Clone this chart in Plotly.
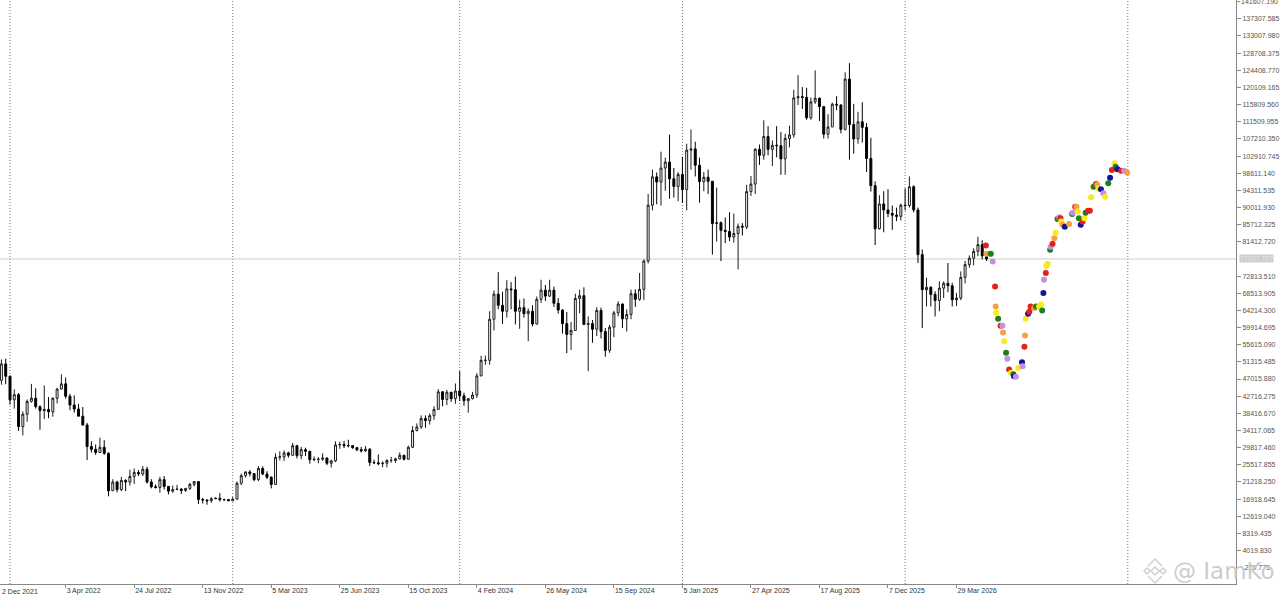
import pandas as pd
import plotly.graph_objects as go

# ---------------- weekly candles (values in thousands of USD) ----------------
first_week = "2021-12-19"
first_open_k = 46.7
closes_k = [
    50.8, 47.7, 41.8, 43.1, 35.1, 38.2, 41.4, 42.2, 40.1, 39.1,
    39.4, 38.8, 42.2, 44.5, 45.8, 42.7, 40.5, 39.5, 37.7, 35.5,
    30.1, 29.4, 28.6, 29.9, 28.4, 19.0, 21.2, 19.3, 21.6, 21.2,
    22.6, 23.6, 23.2, 24.4, 21.2, 20.0, 19.8, 21.8, 20.1, 18.9,
    19.3, 19.4, 19.1, 19.6, 20.6, 21.3, 16.8, 16.7, 16.5, 17.0,
    17.1, 16.8, 16.8, 16.5, 16.9, 20.9, 22.8, 23.7, 23.3, 21.8,
    24.6, 23.2, 22.4, 20.6, 27.4, 27.5, 28.5, 27.9, 30.3, 27.8,
    29.3, 28.9, 26.8, 26.9, 26.9, 27.2, 25.9, 26.5, 30.5, 30.6,
    30.3, 30.3, 29.8, 29.3, 29.0, 29.4, 26.1, 26.0, 25.8, 25.9,
    26.6, 26.6, 27.0, 27.9, 26.9, 29.9, 34.1, 35.0, 37.1, 36.6,
    37.8, 39.4, 43.8, 41.9, 43.7, 42.1, 44.0, 42.8, 41.6, 42.1,
    43.0, 47.8, 51.7, 51.7, 62.0, 68.3, 65.5, 64.0, 69.6, 69.4,
    64.0, 64.9, 63.4, 64.0, 60.8, 67.0, 69.3, 67.8, 69.3, 66.0,
    64.3, 60.9, 58.2, 59.2, 67.2, 67.9, 60.7, 60.9, 59.5, 64.2,
    58.9, 54.2, 60.0, 63.6, 65.8, 62.1, 63.2, 68.4, 67.0, 69.5,
    76.6, 90.6, 97.7, 96.4, 99.9, 101.4, 97.2, 95.3, 98.3, 94.5,
    104.4, 104.7, 100.6, 96.5, 97.6, 96.6, 86.0, 86.2, 84.3, 84.0,
    82.6, 83.5, 85.3, 85.1, 94.0, 95.9, 104.6, 103.1, 107.8, 104.6,
    105.6, 105.5, 102.2, 107.3, 108.2, 117.5, 117.8, 117.6, 112.5, 116.5,
    117.4, 115.3, 108.4, 110.2, 115.9, 115.7, 109.6, 122.2, 110.8, 107.2,
    111.5, 110.1, 102.3, 95.5, 84.7, 90.9, 89.4, 88.5, 88.1, 87.8,
    90.6, 90.5, 95.2, 89.4, 78.2, 69.4, 70.0, 68.2, 66.7, 69.8,
    71.0, 70.4, 66.9, 67.3, 72.5, 75.7, 77.3, 79.0, 80.7, 77.9, 77.1,
]
highs_k = [
    51.9, 52.1, 47.9, 44.4, 43.5, 38.9, 41.9, 45.8, 44.7, 40.4,
    45.4, 42.5, 42.4, 44.8, 48.2, 47.4, 43.3, 42.9, 40.8, 40.0,
    36.0, 31.4, 30.6, 32.3, 31.7, 28.6, 21.9, 21.5, 22.5, 21.9,
    24.3, 24.6, 24.2, 25.2, 25.0, 21.9, 20.6, 22.5, 22.7, 20.1,
    20.3, 20.5, 19.7, 19.7, 21.0, 21.4, 21.4, 17.2, 16.8, 17.4,
    17.4, 18.4, 17.0, 16.9, 17.4, 21.3, 23.3, 23.9, 24.2, 23.4,
    25.2, 25.1, 23.9, 22.6, 28.4, 28.9, 29.1, 28.8, 31.0, 30.5,
    30.0, 29.8, 29.0, 27.6, 27.4, 28.4, 27.4, 26.8, 31.4, 31.3,
    31.5, 31.8, 30.4, 30.0, 30.0, 30.2, 29.7, 26.8, 28.1, 26.4,
    26.9, 27.5, 27.3, 28.6, 28.0, 30.3, 35.2, 35.9, 37.9, 37.9,
    38.4, 40.2, 44.5, 44.0, 44.3, 43.8, 45.9, 49.0, 43.6, 42.2,
    43.8, 48.5, 52.8, 52.9, 64.0, 69.2, 73.8, 68.9, 71.8, 71.3,
    72.7, 66.9, 67.2, 64.7, 65.5, 67.7, 71.9, 70.6, 71.9, 70.2,
    67.3, 64.5, 63.8, 61.3, 68.4, 69.4, 70.0, 62.7, 61.8, 65.0,
    64.9, 59.8, 60.6, 64.1, 66.5, 66.0, 64.5, 69.4, 69.5, 73.6,
    77.0, 93.4, 99.5, 98.8, 104.0, 102.5, 108.3, 99.9, 98.9, 102.7,
    106.0, 109.6, 106.5, 102.5, 98.9, 99.5, 96.6, 95.0, 86.5, 87.5,
    88.8, 88.5, 86.0, 86.1, 95.7, 97.9, 104.9, 105.8, 111.9, 110.4,
    106.8, 110.4, 108.9, 108.5, 110.5, 119.5, 123.2, 120.2, 120.0, 117.6,
    124.4, 117.6, 115.5, 113.4, 116.3, 117.9, 115.9, 123.9, 126.2, 116.0,
    114.0, 116.4, 111.2, 107.5, 96.6, 93.1, 94.1, 94.6, 90.5, 90.0,
    91.0, 94.8, 97.8, 95.6, 90.0, 79.5, 72.4, 70.3, 69.0, 71.5,
    71.5, 76.1, 71.1, 68.6, 74.0, 76.6, 78.0, 79.8, 82.7, 81.8, 78.6,
]
lows_k = [
    45.6, 45.7, 40.6, 39.6, 34.0, 32.9, 36.3, 41.1, 39.6, 34.3,
    37.0, 37.2, 37.6, 40.9, 44.4, 42.1, 39.2, 38.6, 37.7, 35.3,
    26.7, 28.6, 28.0, 28.6, 28.0, 17.6, 19.0, 18.6, 18.9, 18.9,
    20.3, 20.7, 22.7, 22.7, 20.8, 19.6, 19.6, 18.5, 19.3, 18.1,
    18.5, 19.2, 18.2, 18.7, 19.2, 20.1, 15.7, 15.8, 15.5, 16.0,
    16.9, 16.3, 16.4, 16.4, 16.5, 16.9, 20.4, 22.3, 22.6, 21.4,
    21.4, 22.9, 21.9, 19.6, 20.5, 26.6, 26.5, 27.3, 27.8, 27.1,
    26.9, 27.7, 25.8, 26.4, 25.9, 26.5, 25.4, 24.8, 26.2, 29.5,
    29.7, 29.9, 29.5, 28.9, 28.6, 28.7, 25.2, 25.8, 25.4, 24.9,
    24.9, 26.0, 26.0, 26.9, 26.6, 26.8, 29.7, 33.9, 34.5, 34.8,
    35.6, 36.8, 39.4, 40.2, 40.5, 41.3, 40.8, 41.5, 40.3, 38.6,
    41.9, 42.3, 47.7, 50.6, 50.6, 59.2, 64.5, 60.8, 62.4, 64.5,
    60.7, 59.6, 62.4, 56.5, 60.2, 60.7, 66.1, 66.6, 67.6, 65.1,
    63.4, 58.4, 53.5, 54.3, 59.2, 63.5, 60.6, 49.0, 56.1, 57.8,
    57.2, 52.6, 53.6, 57.5, 62.7, 59.8, 58.9, 62.0, 65.1, 66.6,
    66.8, 76.0, 89.3, 90.8, 90.5, 94.2, 92.2, 92.5, 91.6, 91.2,
    89.3, 99.5, 97.8, 91.2, 94.1, 93.4, 78.2, 81.5, 76.6, 81.1,
    81.6, 81.2, 74.5, 83.0, 84.6, 92.9, 93.4, 100.7, 102.0, 103.1,
    100.4, 102.6, 98.2, 98.2, 105.1, 107.5, 115.7, 114.7, 112.0, 112.0,
    116.0, 111.7, 107.3, 107.3, 110.2, 114.4, 108.6, 109.3, 102.0, 103.5,
    106.0, 106.3, 98.9, 94.0, 80.6, 84.5, 83.8, 87.6, 84.4, 86.6,
    86.8, 89.3, 90.0, 88.8, 76.1, 59.8, 65.2, 65.2, 62.7, 64.0,
    67.3, 68.8, 65.2, 65.3, 66.8, 71.0, 74.9, 75.5, 77.8, 77.0, 76.6,
]

# ---------------- forecast dots ----------------
dot_dates = [
    "2026-05-16", "2026-05-17", "2026-05-24", "2026-05-27", "2026-05-31", "2026-06-01",
    "2026-06-02", "2026-06-05", "2026-06-09", "2026-06-12", "2026-06-13", "2026-06-15",
    "2026-06-18", "2026-06-20", "2026-06-23", "2026-06-26", "2026-06-30", "2026-07-01",
    "2026-07-04", "2026-07-08", "2026-07-14", "2026-07-15", "2026-07-18", "2026-07-19",
    "2026-07-20", "2026-07-24", "2026-07-26", "2026-07-28", "2026-08-03", "2026-08-06",
    "2026-08-11", "2026-08-14", "2026-08-16", "2026-08-18", "2026-08-19", "2026-08-22",
    "2026-08-23", "2026-08-25", "2026-08-29", "2026-08-30", "2026-09-02", "2026-09-05",
    "2026-09-07", "2026-09-10", "2026-09-13", "2026-09-15", "2026-09-16", "2026-09-18",
    "2026-09-22", "2026-09-29", "2026-10-04", "2026-10-05", "2026-10-09", "2026-10-11",
    "2026-10-13", "2026-10-15", "2026-10-18", "2026-10-21", "2026-10-24", "2026-10-26",
    "2026-10-30", "2026-11-02", "2026-11-04", "2026-11-08", "2026-11-12", "2026-11-14",
    "2026-11-16", "2026-11-20", "2026-11-24", "2026-11-27", "2026-12-02", "2026-12-05",
    "2026-12-08", "2026-12-12", "2026-12-14", "2026-12-17", "2026-12-23", "2026-12-28",
    "2027-01-02",
]
dot_prices_k = [
    80.5, 78.4, 78.4, 76.5, 70.2, 65.2,
    63.6, 62.1, 60.4, 60.4, 58.7, 56.5,
    53.6, 52.1, 49.4, 48.6, 48.2, 47.7,
    47.6, 49.8, 51.2, 50.2, 55.1, 57.9,
    62.1, 63.4, 63.9, 65.2, 64.8, 65.2,
    65.2, 65.7, 64.2, 68.6, 71.9, 73.6,
    75.4, 75.9, 79.4, 80.2, 80.9, 82.3,
    83.7, 87.1, 87.6, 87.3, 86.5, 85.7,
    85.2, 85.9, 88.4, 88.7, 90.2, 90.2,
    89.0, 87.3, 85.7, 86.5, 87.3, 88.7,
    89.2, 89.2, 92.6, 95.2, 95.9, 95.7,
    94.8, 94.6, 93.6, 92.7, 96.1, 97.5,
    99.4, 101.1, 100.2, 99.6, 99.2, 99.2,
    98.7,
]
dot_color_names = [
    "red", "orange", "green", "violet", "red", "orange",
    "yellow", "green", "red", "violet", "orange", "yellow",
    "green", "violet", "red", "yellow", "green", "blue",
    "violet", "yellow", "blue", "violet", "red", "orange",
    "yellow", "blue", "red", "red", "orange", "green",
    "yellow", "yellow", "green", "blue", "violet", "red",
    "yellow", "yellow", "green", "violet", "red", "orange",
    "yellow", "green", "violet", "red", "yellow", "orange",
    "blue", "orange", "green", "violet", "red", "orange",
    "yellow", "green", "blue", "red", "yellow", "green",
    "red", "red", "yellow", "green", "red", "orange",
    "yellow", "blue", "violet", "yellow", "green", "blue",
    "red", "yellow", "green", "blue", "red", "violet",
    "orange",
]
palette = {"red": "#e3211c", "orange": "#f4a142", "yellow": "#fbe91b",
           "green": "#1f7f1f", "blue": "#13139b", "violet": "#c58fe6"}

# ---------------- axes ----------------
top_tick_label = "141607.190"
ytick_labels = [
    "137307.585", "133007.980", "128708.375", "124408.770",
    "120109.165", "115809.560", "111509.955", "107210.350", "102910.745",
    "98611.140", "94311.535", "90011.930", "85712.325", "81412.720",
    "72813.510", "68513.905", "64214.300", "59914.695",
    "55615.090", "51315.485", "47015.880", "42716.275", "38416.670",
    "34117.065", "29817.460", "25517.855", "21218.250", "16918.645",
    "12619.040", "8319.435", "4019.830", "-279.775",
]
ytick_vals = [float(t) for t in ytick_labels]
xtick_dates = ["2022-04-03", "2022-07-24", "2022-11-13", "2023-03-05", "2023-06-25",
               "2023-10-15", "2024-02-04", "2024-05-26", "2024-09-15", "2025-01-05",
               "2025-04-27", "2025-08-17", "2025-12-07", "2026-03-29"]
xtick_text = ["3 Apr 2022", "24 Jul 2022", "13 Nov 2022", "5 Mar 2023", "25 Jun 2023",
              "15 Oct 2023", "4 Feb 2024", "26 May 2024", "15 Sep 2024", "5 Jan 2025",
              "27 Apr 2025", "17 Aug 2025", "7 Dec 2025", "29 Mar 2026"]
first_label = "2 Dec 2021"
separator_dates = ["2022-01-02", "2023-01-01", "2024-01-07", "2025-01-05",
                   "2026-01-04", "2027-01-03"]
last_price = 77107.727
last_price_text = "77107.727"
watermark = "@ IamKo"

# ---------------- build ----------------
weeks = pd.date_range(first_week, periods=len(closes_k), freq="7D")
closes = [v * 1000 for v in closes_k]
highs = [v * 1000 for v in highs_k]
lows = [v * 1000 for v in lows_k]
opens = [first_open_k * 1000] + closes[:-1]

fig = go.Figure()
fig.add_trace(go.Candlestick(
    x=weeks, open=opens, high=highs, low=lows, close=closes,
    increasing=dict(line=dict(color="#1a1a1a", width=1), fillcolor="#ffffff"),
    decreasing=dict(line=dict(color="#000000", width=1), fillcolor="#000000"),
    whiskerwidth=0, hoverinfo="skip", showlegend=False,
))
fig.add_trace(go.Scatter(
    x=pd.to_datetime(dot_dates), y=[v * 1000 for v in dot_prices_k], mode="markers",
    marker=dict(size=6, color=[palette[c] for c in dot_color_names], line=dict(width=0)),
    hoverinfo="skip", showlegend=False,
))

shapes = []
for d in separator_dates:
    shapes.append(dict(type="line", xref="x", yref="paper", x0=d, x1=d, y0=0, y1=1,
                       line=dict(color="#777777", width=1, dash="1px,2px"), layer="below"))
shapes.append(dict(type="line", xref="paper", yref="y", x0=0, x1=1, y0=last_price, y1=last_price,
                   line=dict(color="#cfcfcf", width=1), layer="below"))

# watermark logo (Binance-style diamonds) in pixel space of plot area
PW, PH = 1236.0, 584.0
def px(x):
    return x / PW
def py(y):
    return (PH - y) / PH
def diamond(cx, cy, r):
    return (f"M {px(cx)},{py(cy - r)} L {px(cx + r)},{py(cy)} "
            f"L {px(cx)},{py(cy + r)} L {px(cx - r)},{py(cy)} Z")
logo_cx, logo_cy = 1155, 571
for (dx, dy, r) in [(0, 0, 4), (-8, 0, 3), (8, 0, 3)]:
    shapes.append(dict(type="path", xref="paper", yref="paper",
                       path=diamond(logo_cx + dx, logo_cy + dy, r),
                       line=dict(color="#d0d0d0", width=1.5), fillcolor="rgba(0,0,0,0)"))
shapes.append(dict(type="path", xref="paper", yref="paper",
                   path=(f"M {px(logo_cx-7)},{py(logo_cy-5)} L {px(logo_cx)},{py(logo_cy-12)} "
                         f"L {px(logo_cx+7)},{py(logo_cy-5)}"),
                   line=dict(color="#d0d0d0", width=1.5)))
shapes.append(dict(type="path", xref="paper", yref="paper",
                   path=(f"M {px(logo_cx-7)},{py(logo_cy+5)} L {px(logo_cx)},{py(logo_cy+12)} "
                         f"L {px(logo_cx+7)},{py(logo_cy+5)}"),
                   line=dict(color="#d0d0d0", width=1.5)))
# tick mark for the top label (drawn as annotation since it sits at the page edge)
top_val = float(top_tick_label)
shapes.append(dict(type="line", xref="paper", yref="y", x0=1, x1=1 + 4 / PW, y0=top_val, y1=top_val,
                   line=dict(color="#888888", width=1)))

annotations = [
    dict(text=first_label, xref="paper", yref="paper", x=0, y=0, xanchor="left", yanchor="top",
         yshift=-2, showarrow=False, font=dict(family="Liberation Sans", size=7, color="#333333")),
    dict(text=top_tick_label, xref="paper", yref="y", x=1, y=top_val, xanchor="left",
         yanchor="middle", xshift=4, showarrow=False, borderpad=0,
         font=dict(family="Liberation Sans", size=7, color="#555555")),
    dict(text=last_price_text, xref="paper", yref="y", x=1, y=last_price, xanchor="left",
         yanchor="middle", xshift=3, showarrow=False, bgcolor="#cdcdcd", borderpad=0,
         font=dict(family="Liberation Sans", size=7, color="#e6e6e6")),
    dict(text=watermark, xref="paper", yref="paper", x=px(1171), y=py(571), xanchor="left",
         yanchor="middle", showarrow=False,
         font=dict(family="DejaVu Sans", size=23, color="#cccccc")),
]

fig.update_layout(
    width=1280, height=596,
    margin=dict(l=0, r=44, t=0, b=12),
    paper_bgcolor="#ffffff", plot_bgcolor="#ffffff",
    showlegend=False, boxgap=0.35,
    shapes=shapes, annotations=annotations,
    xaxis=dict(
        type="date", range=["2021-12-16 16:00", "2027-06-28 19:00"],
        rangeslider=dict(visible=False), showgrid=False, zeroline=False,
        showline=True, linecolor="#888888", linewidth=1,
        tickmode="array", tickvals=xtick_dates, ticktext=xtick_text,
        ticks="outside", ticklen=3, tickcolor="#888888",
        ticklabelposition="outside right",
        tickfont=dict(family="Liberation Sans", size=7, color="#333333"),
    ),
    yaxis=dict(
        side="right", range=[-4370, 142030], showgrid=False, zeroline=False,
        showline=True, linecolor="#888888", linewidth=1,
        tickmode="array", tickvals=ytick_vals, ticktext=ytick_labels,
        ticks="outside", ticklen=4, tickcolor="#888888",
        tickfont=dict(family="Liberation Sans", size=7, color="#555555"),
    ),
)

fig.write_html("out.html", config={"displayModeBar": False},
               post_script="document.body.style.margin='0';document.body.style.overflow='hidden';")
